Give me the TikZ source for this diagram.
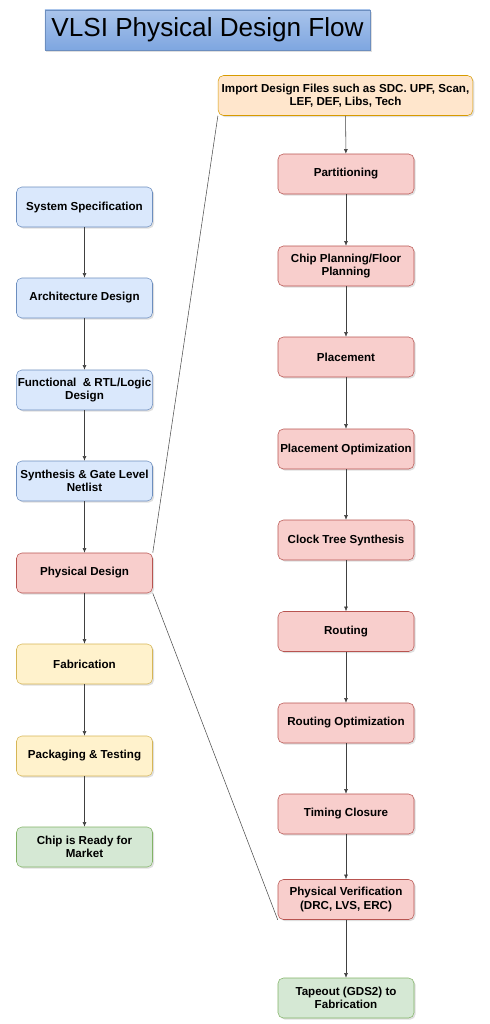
\documentclass[tikz,border=0pt]{standalone}
\usepackage{fontspec}
\setmainfont{Liberation Sans}
\usepackage{tikz}
\usetikzlibrary{shadows,arrows.meta}

\definecolor{bluefill}{HTML}{DAE8FC}
\definecolor{blueline}{HTML}{6C8EBF}
\definecolor{redfill}{HTML}{F8CECC}
\definecolor{redline}{HTML}{B85450}
\definecolor{yellowfill}{HTML}{FFF2CC}
\definecolor{yellowline}{HTML}{D6B656}
\definecolor{greenfill}{HTML}{D5E8D4}
\definecolor{greenline}{HTML}{82B366}
\definecolor{orangefill}{HTML}{FFE6CC}
\definecolor{orangeline}{HTML}{D79B00}
\definecolor{titletop}{HTML}{A9C4EB}
\definecolor{titlebottom}{HTML}{7EA6E0}

\begin{document}
\begin{tikzpicture}[x=0.75pt,y=-0.75pt,
    stepbox/.style={rectangle,rounded corners=4pt,minimum width=102pt,minimum height=30pt,
      align=center,font=\fontsize{8.7}{10.2}\selectfont\bfseries,inner sep=1pt,
      drop shadow={shadow xshift=1.2pt,shadow yshift=-1.2pt,opacity=0.25}},
    bluebox/.style={stepbox,fill=bluefill,draw=blueline},
    redbox/.style={stepbox,fill=redfill,draw=redline},
    yellowbox/.style={stepbox,fill=yellowfill,draw=yellowline},
    greenbox/.style={stepbox,fill=greenfill,draw=greenline},
    orangebox/.style={stepbox,fill=orangefill,draw=orangeline,minimum width=191pt},
    flow/.style={draw=black!75,-{Latex[length=3.5pt,width=3pt]}},
    link/.style={draw=black!70}]

    \useasboundingbox (0,0) rectangle (489,1024);

    \node (title) at (207.5,30) [rectangle,draw=blueline,top color=titletop,bottom color=titlebottom,
      minimum width=244pt,minimum height=30pt,font=\fontsize{19.6}{21}\selectfont,
      drop shadow={shadow xshift=1.2pt,shadow yshift=-1.2pt,opacity=0.25}] {VLSI Physical Design Flow};

    % left column
    \node (spec) at (84.5,207) [bluebox] {System Specification};
    \node (arch) at (84.5,298) [bluebox] {Architecture Design};
    \node (func) at (84.5,390) [bluebox] {Functional \ \& RTL/Logic\\Design};
    \node (synth) at (84.5,481) [bluebox] {Synthesis \& Gate Level\\Netlist};
    \node (phys) at (84.5,573) [redbox] {Physical Design};
    \node (fab) at (84.5,664) [yellowbox] {Fabrication};
    \node (pack) at (84.5,756) [yellowbox] {Packaging \& Testing};
    \node (ready) at (84.5,847) [greenbox] {Chip is Ready for\\Market};

    % right column
    \node (import) at (345.5,95.5) [orangebox] {Import Design Files such as SDC. UPF, Scan,\\LEF, DEF, Libs, Tech};
    \node (part) at (346,174) [redbox] {Partitioning};
    \node (floor) at (346,266) [redbox] {Chip Planning/Floor\\Planning};
    \node (place) at (346,357) [redbox] {Placement};
    \node (popt) at (346,449) [redbox] {Placement Optimization};
    \node (cts) at (346,540) [redbox] {Clock Tree Synthesis};
    \node (route) at (346,631.5) [redbox] {Routing};
    \node (ropt) at (346,723) [redbox] {Routing Optimization};
    \node (timing) at (346,814) [redbox] {Timing Closure};
    \node (verif) at (346,899.5) [redbox] {Physical Verification\\(DRC, LVS, ERC)};
    \node (tape) at (346,998) [greenbox] {Tapeout (GDS2) to\\Fabrication};

    \foreach \a/\b in {spec/arch,arch/func,func/synth,synth/phys,phys/fab,fab/pack,pack/ready,
      import/part,part/floor,floor/place,place/popt,popt/cts,cts/route,route/ropt,ropt/timing,
      timing/verif,verif/tape}
      \draw[flow] (\a) -- (\b);

    \draw[link] (phys.north east) -- (import.south west);
    \draw[link] (phys.south east) -- (verif.south west);
  \end{tikzpicture}
\end{document}
